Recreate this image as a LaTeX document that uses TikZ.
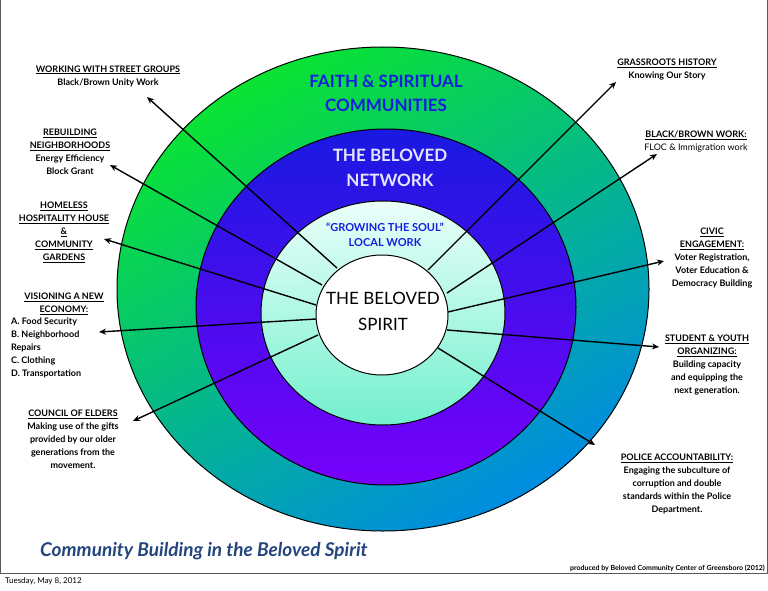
\documentclass[tikz,border=0pt]{standalone}
\usepackage{fontspec}
\setmainfont{Lato}
\usetikzlibrary{arrows.meta,shapes.geometric}
\definecolor{ringgreen}{RGB}{10,228,50}
\definecolor{ringblue}{RGB}{0,140,225}
\definecolor{nettop}{RGB}{25,25,225}
\definecolor{netbot}{RGB}{120,0,250}
\definecolor{soultop}{RGB}{235,255,250}
\definecolor{soulbot}{RGB}{115,240,205}
\definecolor{faith}{RGB}{20,30,225}
\definecolor{titleblue}{RGB}{35,70,125}
\tikzset{
  lbl/.style={align=center, font=\fontsize{9}{13}\selectfont\bfseries, inner sep=0pt},
  lbll/.style={align=left, font=\fontsize{9}{13}\selectfont\bfseries, inner sep=0pt, anchor=north west},
  spoke/.style={line width=1.4pt, -{Stealth[length=7pt,width=6pt]}},
  ring/.style={draw=black, line width=1pt}
}
\newcommand{\hd}[1]{\underline{#1}}
\begin{document}
\begin{tikzpicture}[x=1pt,y=-1pt]
\useasboundingbox (0,0) rectangle (768,591);
\fill[white] (0,0) rectangle (768,591);
\draw[gray!70!black, line width=0.8pt] (0.5,-5) rectangle (767.5,573);

% rings
\shade[ring, top color=ringgreen, bottom color=ringblue, shading angle=30]
  (383,289) ellipse [x radius=266, y radius=242];
\shade[ring, top color=nettop, bottom color=netbot]
  (386,307) ellipse [x radius=190, y radius=178];
\shade[ring, top color=soultop, bottom color=soulbot]
  (383,313) ellipse [x radius=122, y radius=112];
\node[ellipse, ring, fill=white, minimum width=132pt, minimum height=120pt] (spirit) at (382,315) {};

% ring titles
\node[font=\fontsize{17}{24}\selectfont\bfseries, text=faith, align=center] (faith) at (386,93) {FAITH \& SPIRITUAL\\COMMUNITIES};
\node[font=\fontsize{17}{25}\selectfont\bfseries, text=blue!10!white, align=center] (net) at (390,168) {THE BELOVED\\NETWORK};
\node[font=\fontsize{11}{15}\selectfont\bfseries, text=faith, align=center] (soul) at (385,235) {“GROWING THE SOUL”\\LOCAL WORK};
\node[font=\fontsize{17}{26}\selectfont, align=center] (spirittxt) at (383,311) {THE BELOVED\\SPIRIT};

% start points of the spokes
\coordinate (s1) at (337,268);
\coordinate (s2) at (322,285);
\coordinate (s3) at (316,305);
\coordinate (s4) at (316,319);
\coordinate (s5) at (318,335);
\coordinate (s6) at (428,270);
\coordinate (s7) at (447,293);
\coordinate (s8) at (448,312);
\coordinate (s9) at (447,330);
\coordinate (s10) at (438,348);

% arrow tips
\coordinate (t1) at (147,97);
\coordinate (t2) at (110,165);
\coordinate (t3) at (104,239);
\coordinate (t4) at (99,332);
\coordinate (t5) at (133,421);
\coordinate (t6) at (616,82);
\coordinate (t7) at (657,154);
\coordinate (t8) at (664,261);
\coordinate (t9) at (659,347);
\coordinate (t10) at (595,445);

\foreach \i in {1,...,10} \draw[spoke] (s\i) -- (t\i);

% labels left
\node[lbl] (street) at (108,76) {\hd{WORKING WITH STREET GROUPS}\\Black/Brown Unity Work};
\node[lbl] (rebuild) at (70,152) {\hd{REBUILDING}\\\hd{NEIGHBORHOODS}\\Energy Efficiency\\Block Grant};
\node[lbl] (homeless) at (64,232) {\hd{HOMELESS}\\\hd{HOSPITALITY HOUSE}\\\hd{\&}\\\hd{COMMUNITY}\\\hd{GARDENS}};
\node[lbl] (vision) at (64,304) {\hd{VISIONING A NEW}\\\hd{ECONOMY:}};
\node[lbll] (visionlist) at (11,318) {A. Food Security\\B. Neighborhood\\Repairs\\C. Clothing\\D. Transportation};
\node[lbl] (elders) at (73,439) {\hd{COUNCIL OF ELDERS}\\Making use of the gifts\\provided by our older\\generations from the\\movement.};

% labels right
\node[lbl] (grass) at (667,70) {\hd{GRASSROOTS HISTORY}\\Knowing Our Story};
\node[lbl] (bbwork) at (696,141) {\hd{BLACK/BROWN WORK:}\\{\mdseries FLOC \& Immigration work}};
\node[lbl] (civic) at (712,258) {\hd{CIVIC}\\\hd{ENGAGEMENT:}\\Voter Registration,\\Voter Education \&\\Democracy Building};
\node[lbl] (student) at (707,365) {\hd{STUDENT \& YOUTH}\\\hd{ORGANIZING:}\\Building capacity\\and equipping the\\next generation.};
\node[lbl] (police) at (677,484) {\hd{POLICE ACCOUNTABILITY:}\\Engaging the subculture of\\corruption and double\\standards within the Police\\Department.};

% footer
\node[font=\fontsize{19}{22}\selectfont\bfseries\itshape, text=titleblue, anchor=west, inner sep=0pt] (title) at (40,551) {Community Building in the Beloved Spirit};
\node[font=\fontsize{7}{8}\selectfont\bfseries, anchor=east, inner sep=0pt] (credit) at (765,568) {produced by Beloved Community Center of Greensboro (2012)};
\node[font=\fontsize{8}{9}\selectfont, anchor=west, inner sep=0pt] (date) at (5,581) {Tuesday, May 8, 2012};
\end{tikzpicture}
\end{document}
